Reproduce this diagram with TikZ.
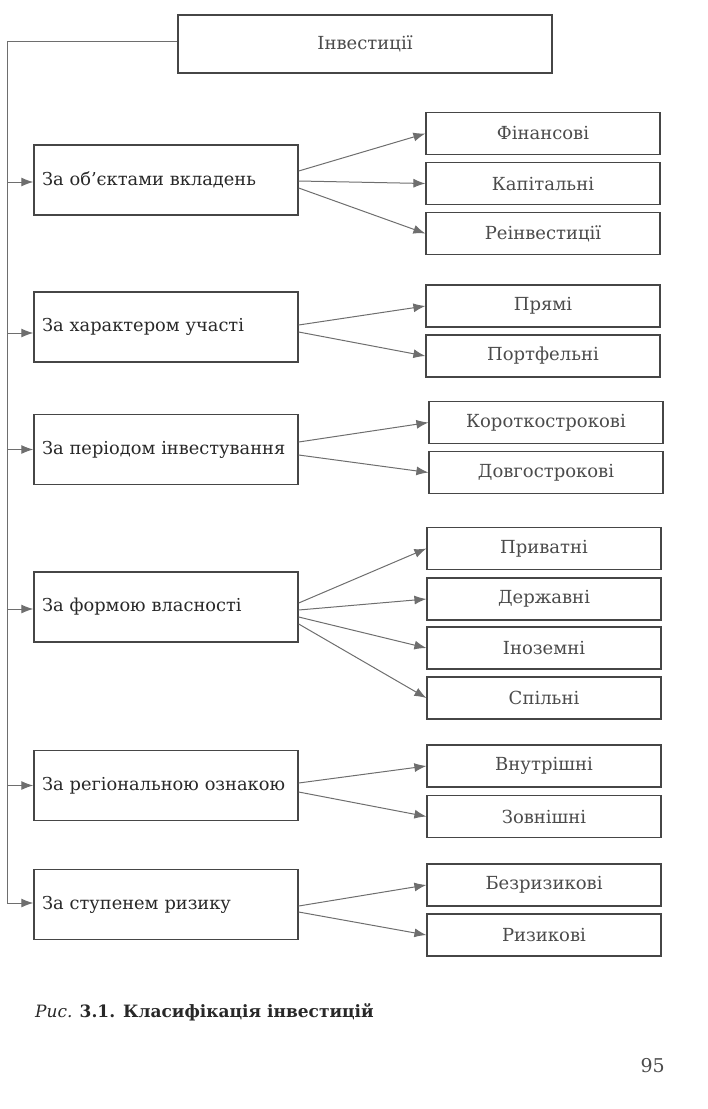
\documentclass[tikz,border=0pt]{standalone}
\usepackage{fontspec}
\setmainfont{DejaVu Serif}
\usetikzlibrary{arrows.meta}
\definecolor{boxc}{RGB}{70,70,70}
\definecolor{linec}{RGB}{110,110,110}
\definecolor{cattext}{RGB}{40,40,40}
\definecolor{subtext}{RGB}{75,75,75}
\begin{document}
\begin{tikzpicture}[x=1pt,y=1pt,
  rootbox/.style={draw=boxc,line width=1.2pt,minimum width=374pt,minimum height=58pt,inner sep=0pt,
     font=\fontsize{18}{20}\selectfont,text=subtext},
  catbox/.style={draw=boxc,line width=1.4pt,minimum width=264pt,minimum height=70pt,inner sep=8pt,
     text width=248pt,align=left,font=\fontsize{17.8}{20}\selectfont,text=cattext},
  subbox/.style={draw=boxc,line width=1.2pt,minimum width=234pt,minimum height=42pt,inner sep=0pt,
     font=\fontsize{18}{20}\selectfont,text=subtext},
  conn/.style={draw=linec,line width=1pt},
  arr/.style={conn,-{Latex[length=12pt,width=9pt]}}
]
\useasboundingbox (0,0) rectangle (708,-1109);

\node[rootbox] (root) at (365,-44) {Інвестиції};

% categories
\node[catbox] (c1) at (166,-180) {За об’єктами вкладень};
\node[catbox] (c2) at (166,-327) {За характером участі};
\node[catbox] (c3) at (166,-449.5) {За періодом інвестування};
\node[catbox] (c4) at (166,-607) {За формою власності};
\node[catbox] (c5) at (166,-785.5) {За регіональною ознакою};
\node[catbox] (c6) at (166,-904.5) {За ступенем ризику};

% sub boxes
\node[subbox] (s11) at (543,-133.5) {Фінансові};
\node[subbox] (s12) at (543,-183.5) {Капітальні};
\node[subbox] (s13) at (543,-233.5) {Реінвестиції};
\node[subbox] (s21) at (543,-306) {Прямі};
\node[subbox] (s22) at (543,-356) {Портфельні};
\node[subbox] (s31) at (546,-422.5) {Короткострокові};
\node[subbox] (s32) at (546,-472.5) {Довгострокові};
\node[subbox] (s41) at (544,-548.5) {Приватні};
\node[subbox] (s42) at (544,-599) {Державні};
\node[subbox] (s43) at (544,-648) {Іноземні};
\node[subbox] (s44) at (544,-698) {Спільні};
\node[subbox] (s51) at (544,-766) {Внутрішні};
\node[subbox] (s52) at (544,-816.5) {Зовнішні};
\node[subbox] (s61) at (544,-885) {Безризикові};
\node[subbox] (s62) at (544,-935) {Ризикові};

% trunk
\coordinate (tt) at (7,-41);
\coordinate (tb) at (7,-903);
\draw[conn] ([yshift=3pt]root.west) -- (tt) -- (tb);
\draw[arr] ([yshift=-2pt]c1.west -| tt) -- ([yshift=-2pt]c1.west);
\draw[arr] ([yshift=-6pt]c2.west -| tt) -- ([yshift=-6pt]c2.west);
\draw[arr] (c3.west -| tt) -- (c3.west);
\draw[arr] ([yshift=-2pt]c4.west -| tt) -- ([yshift=-2pt]c4.west);
\draw[arr] (c5.west -| tt) -- (c5.west);
\draw[arr] (tb) -- (tb -| c6.west);

% branches
\draw[arr] ([yshift=9pt]c1.east) -- (s11.west);
\draw[arr] ([yshift=-1pt]c1.east) -- (s12.west);
\draw[arr] ([yshift=-8pt]c1.east) -- (s13.west);
\draw[arr] ([yshift=2pt]c2.east) -- (s21.west);
\draw[arr] ([yshift=-5pt]c2.east) -- (s22.west);
\draw[arr] ([yshift=7.5pt]c3.east) -- (s31.west);
\draw[arr] ([yshift=-5.5pt]c3.east) -- (s32.west);
\draw[arr] ([yshift=4pt]c4.east) -- (s41.west);
\draw[arr] ([yshift=-3pt]c4.east) -- (s42.west);
\draw[arr] ([yshift=-10pt]c4.east) -- (s43.west);
\draw[arr] ([yshift=-17pt]c4.east) -- (s44.west);
\draw[arr] ([yshift=2.5pt]c5.east) -- (s51.west);
\draw[arr] ([yshift=-6.5pt]c5.east) -- (s52.west);
\draw[arr] ([yshift=-1.5pt]c6.east) -- (s61.west);
\draw[arr] ([yshift=-7.5pt]c6.east) -- (s62.west);

% caption and page number
\node[anchor=west,inner sep=0pt,text=cattext,font=\fontsize{17}{20}\selectfont] (cap) at (35,-1012)
  {\textit{Рис.} \textbf{3.1. Класифікація інвестицій}};
\node[anchor=east,inner sep=0pt,text=subtext,font=\fontsize{19}{21}\selectfont] (pg) at (665,-1066) {95};
\end{tikzpicture}
\end{document}
